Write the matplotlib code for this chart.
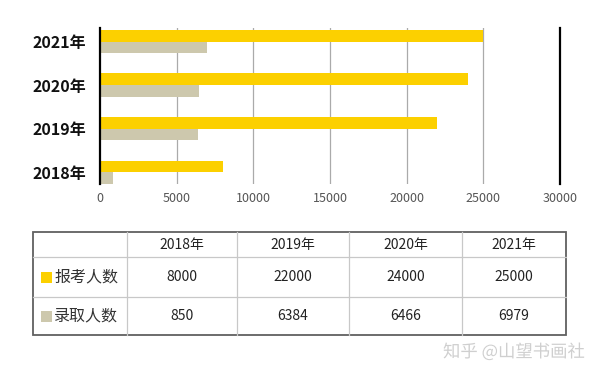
import matplotlib
matplotlib.use("Agg")
import matplotlib.pyplot as plt
import matplotlib.patheffects as pe

plt.rcParams['font.family'] = ['Noto Sans CJK SC', 'DejaVu Sans']

years = ['2018年', '2019年', '2020年', '2021年']
applicants = [8000, 22000, 24000, 25000]
admitted = [850, 6384, 6466, 6979]
series_names = ['报考人数', '录取人数']
xticks = [0, 5000, 10000, 15000, 20000, 25000, 30000]

c_yellow = '#FCD000'
c_gray = '#CDC8AD'

W, H = 600, 369
fig = plt.figure(figsize=(6, 3.69), dpi=100)

# ---- bar chart ----
ax = fig.add_axes([100 / W, 1 - 184 / H, 460 / W, 156 / H])
bh = 0.27
ypos = list(range(len(years)))
ax.barh([y + bh / 2 for y in ypos], applicants, height=bh, color=c_yellow, zorder=2)
ax.barh([y - bh / 2 for y in ypos], admitted, height=bh, color=c_gray, zorder=2)
ax.set_xlim(0, 30000)
ax.set_ylim(-bh, 3 + 0.315)
ax.set_xticks(xticks)
ax.set_xticklabels([str(v) for v in xticks], fontsize=9, color='#555555')
ax.set_yticks(ypos)
ax.set_yticklabels(years, fontsize=11.5, fontweight='bold', color='#111111')
ax.tick_params(axis='both', length=0)
ax.tick_params(axis='x', pad=6)
ax.tick_params(axis='y', pad=10)
for v in xticks[1:-1]:
    ax.axvline(v, color='#aaaaaa', lw=0.9, zorder=1)
for s in ['top', 'bottom']:
    ax.spines[s].set_visible(False)
for s in ['left', 'right']:
    ax.spines[s].set_color('#000000')
    ax.spines[s].set_linewidth(1.6)
ax.spines['left'].set_zorder(3)

# ---- data table ----
tx = fig.add_axes([0, 0, 1, 1])
tx.set_xlim(0, W)
tx.set_ylim(H, 0)
tx.axis('off')
col_edges = [33, 127, 237, 349, 462, 566]
row_edges = [232, 257, 297, 335]
for x in col_edges[1:-1]:
    tx.plot([x, x], [row_edges[0], row_edges[-1]], color='#c8c8c8', lw=0.9)
for y in row_edges[1:-1]:
    tx.plot([col_edges[0], col_edges[-1]], [y, y], color='#c8c8c8', lw=0.9)
tx.add_patch(plt.Rectangle((col_edges[0], row_edges[0]), col_edges[-1] - col_edges[0],
                           row_edges[-1] - row_edges[0], fill=False, ec='#606060', lw=1.3))

def cx(i):
    return (col_edges[i] + col_edges[i + 1]) / 2

def cy(j):
    return (row_edges[j] + row_edges[j + 1]) / 2

for i, yr in enumerate(years):
    tx.text(cx(i + 1), cy(0), yr, ha='center', va='center', fontsize=10, color='#222222')
rows = [applicants, admitted]
colors = [c_yellow, c_gray]
for j, (name, vals, col) in enumerate(zip(series_names, rows, colors)):
    yc = cy(j + 1)
    tx.add_patch(plt.Rectangle((41, yc - 5), 10.5, 10.5, color=col, lw=0))
    tx.text(54, yc, name, ha='left', va='center', fontsize=11.5, color='#333333')
    for i, v in enumerate(vals):
        tx.text(cx(i + 1), yc, str(v), ha='center', va='center', fontsize=10, color='#222222')

tx.text(585, 352, '知乎 @山望书画社', ha='right', va='center', fontsize=12.5, color='#cfcfcf',
        path_effects=[pe.withStroke(linewidth=2, foreground='white')])

fig.savefig('out.png', dpi=100)
